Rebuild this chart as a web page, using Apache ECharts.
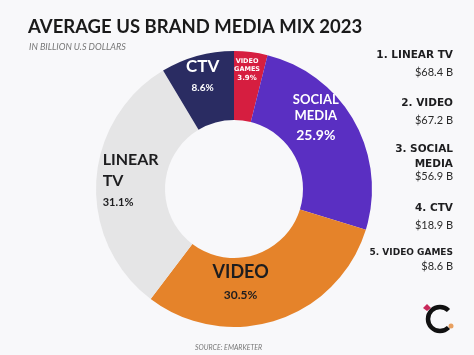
<!DOCTYPE html>
<html><head><meta charset="utf-8">
<script src="https://cdn.jsdelivr.net/npm/echarts@6/dist/echarts.min.js"></script>
<style>html,body{margin:0;padding:0;background:#f8f8fa}#c{width:474px;height:355px}</style>
</head><body><div id="c"></div>
<script>
// Ranking (legend) order
const categories = ['LINEAR TV', 'VIDEO', 'SOCIAL MEDIA', 'CTV', 'VIDEO GAMES'];
const valuesB = [68.4, 67.2, 56.9, 18.9, 8.6];
const percents = [31.1, 30.5, 25.9, 8.6, 3.9];
const valueLabels = ['$68.4 B', '$67.2 B', '$56.9 B', '$18.9 B', '$8.6 B'];
// Pie drawing order, clockwise from 12 o'clock (indices into arrays above)
const pieOrder = [4, 2, 1, 0, 3];

const colors = {'LINEAR TV':'#e5e5e6','VIDEO':'#e5832a','SOCIAL MEDIA':'#5a2fc2','CTV':'#2a2c62','VIDEO GAMES':'#d61e40'};
const F = 'Lato, "Noto Sans", sans-serif';
const FW = '"DejaVu Sans", sans-serif';

const labelCfg = {
  'VIDEO GAMES': {text: n => '{s|VIDEO}\n{s|GAMES}\n{p|' + n + '%}', offset:[0,-13],
    rich:{s:{fontSize:6.5,fontWeight:'bold',color:'#fff',lineHeight:8,fontFamily:FW},p:{fontSize:7,fontWeight:'bold',color:'#fff',lineHeight:10,fontFamily:FW}}},
  'SOCIAL MEDIA': {text: n => '{a|SOCIAL}\n{a|MEDIA}\n{b|' + n + '%}', offset:[-11,-17],
    rich:{a:{fontSize:13,fontWeight:'bold',color:'#fff',lineHeight:16,fontFamily:F},b:{fontSize:14,fontWeight:'bold',color:'#fff',lineHeight:23,fontFamily:F}}},
  'VIDEO': {text: n => '{a|VIDEO}\n{b|' + n + '%}', offset:[-26,-8],
    rich:{a:{fontSize:18,fontWeight:'bold',color:'#1d1d1f',lineHeight:26,fontFamily:F},b:{fontSize:12,fontWeight:'bold',color:'#1d1d1f',lineHeight:20,fontFamily:F}}},
  'LINEAR TV': {text: n => '{a|LINEAR}\n{a|TV}\n{b|' + n + '%}', offset:[3,-2], align:'left',
    rich:{a:{fontSize:16,fontWeight:'bold',color:'#1d1d1f',lineHeight:21,fontFamily:F,align:'left'},b:{fontSize:11,fontWeight:'bold',color:'#1d1d1f',lineHeight:22,fontFamily:F,align:'left'}}},
  'CTV': {text: n => '{a|CTV}\n{b|' + n + '%}', offset:[-3,-10],
    rich:{a:{fontSize:17,fontWeight:'bold',color:'#fff',lineHeight:23,fontFamily:F},b:{fontSize:10,fontWeight:'bold',color:'#fff',lineHeight:20,fontFamily:F}}}
};

const pieData = pieOrder.map(i => {
  const name = categories[i];
  const cfg = labelCfg[name];
  return {
    name: name, value: valuesB[i],
    itemStyle: {color: colors[name]},
    label: {show:true, position:'inside', formatter: cfg.text(percents[i].toFixed(1)),
      offset: cfg.offset, rich: cfg.rich, align: cfg.align || 'center'}
  };
});

const legendTexts = [];
const legendY = [[48, 67], [96, 115], [142, 171], [201, 220], [245, 261]];
const legendNames = ['1. LINEAR TV', '2. VIDEO', '3. SOCIAL\nMEDIA', '4. CTV', '5. VIDEO GAMES'];
categories.forEach((c, i) => {
  legendTexts.push({type:'text', right:21, top:legendY[i][0],
    style:{text: legendNames[i], font:'bold ' + (i === 4 ? 9 : 10.5) + 'px ' + FW, fill:'#1d1d1f', textAlign:'right', lineHeight:15}});
  legendTexts.push({type:'text', right:21, top:legendY[i][1],
    style:{text: valueLabels[i], font:'11px ' + F, fill:'#2a2a2a', textAlign:'right'}});
});

const chart = echarts.init(document.getElementById('c'));
chart.setOption({
  backgroundColor:'#f8f8fa',
  animation:false,
  title:[
    {text:'AVERAGE US BRAND MEDIA MIX 2023', left:23, top:13,
     textStyle:{fontFamily:F, fontWeight:'bold', fontSize:18.5, color:'#1a1a1a'}},
    {text:'IN BILLION U.S DOLLARS', left:24, top:38,
     textStyle:{fontFamily:F, fontStyle:'italic', fontWeight:'normal', fontSize:9, color:'#777'}},
    {text:'SOURCE: EMARKETER', left:190, top:339,
     textStyle:{fontFamily:F, fontStyle:'italic', fontWeight:'normal', fontSize:7, color:'#777'}}
  ],
  series:[{
    type:'pie', center:[234,189], radius:[69,138], startAngle:90, clockwise:true,
    silent:true, labelLine:{show:false}, data: pieData
  }],
  graphic: legendTexts.concat([
    {type:'arc', shape:{cx:440, cy:319, r:12, startAngle:Math.PI*1.75, endAngle:Math.PI*0.25, clockwise:false},
     style:{stroke:'#111', lineWidth:4.5, fill:null}},
    {type:'polygon', shape:{points:[[423,308],[427,304],[431,308],[427,311]]}, style:{fill:'#c8285a'}},
    {type:'circle', shape:{cx:451, cy:326, r:2.5}, style:{fill:'#e8a060'}}
  ])
});
</script></body></html>
